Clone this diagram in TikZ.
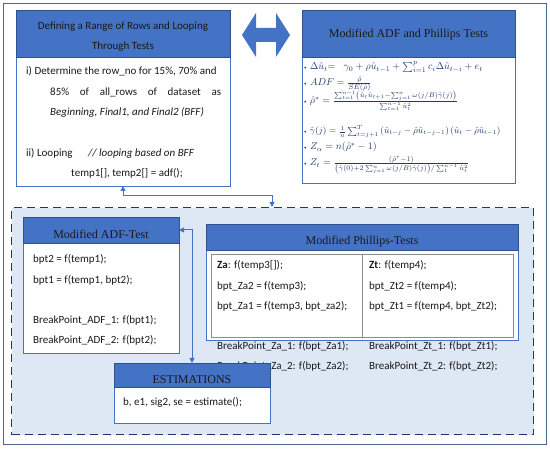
\documentclass[tikz,border=0pt]{standalone}
\usepackage{fontspec}
\usepackage{amsmath}
\newfontfamily\calib{Carlito}
\newfontfamily\serhead{Liberation Serif}
\usetikzlibrary{arrows.meta,calc}
\definecolor{hblue}{HTML}{4472C4}
\definecolor{hnavy}{HTML}{2F528F}
\definecolor{framec}{HTML}{4F6591}
\definecolor{dashc}{HTML}{1F3864}
\definecolor{lightbg}{HTML}{DEE8F4}
\definecolor{mathc}{HTML}{203A74}
\definecolor{textc}{HTML}{1A1A1A}
\definecolor{grayb}{HTML}{8C8C8C}
\tikzset{
  hdr/.style={draw=hnavy, fill=hblue, line width=0.8pt, inner sep=0pt, outer sep=0pt, anchor=north west},
  bodyb/.style={draw=hblue, fill=white, line width=0.9pt, inner sep=0pt, outer sep=0pt, anchor=north west},
  txt/.style={anchor=base west, inner sep=0pt, font=\calib\fontsize{11}{13}\selectfont, text=textc},
  htxt/.style={anchor=base, inner sep=0pt, font=\serhead\fontsize{12}{14}\selectfont, text=textc},
  mtxt/.style={anchor=base west, inner sep=0pt, font=\fontsize{9.6}{11}\selectfont, text=mathc},
  conn/.style={draw=hblue, line width=1pt, {Triangle[length=5pt,width=5pt]}-{Triangle[length=5pt,width=5pt]}}
}
\begin{document}
\begin{tikzpicture}[x=1pt,y=-1pt]
\useasboundingbox (0,0) rectangle (550,449);
% outer frame
\node[draw=framec, line width=1pt, inner sep=0pt, anchor=north west, minimum width=543, minimum height=441] (frame) at (3,3) {};
% dashed region
\node[draw=dashc, fill=lightbg, line width=1.4pt, dash pattern=on 8pt off 5pt, inner sep=0pt, anchor=north west, minimum width=522, minimum height=227] (dbox) at (11,207) {};

% top-left box
\node[bodyb, minimum width=214, minimum height=130] (b1) at (16,56) {};
\node[hdr, minimum width=214, minimum height=47] (h1) at (16,10) {};
\node[txt, anchor=base] (h1a) at (123,30) {Defining a Range of Rows and Looping};
\node[txt, anchor=base] (h1b) at (123,50) {Through Tests};
\node[txt] (t1) at (26,75) {i) Determine the row\_no for 15\%, 70\% and};
\node[txt] (t2) at (50,96) {\makebox[171pt][s]{85\% of all\_rows of dataset as}};
\node[txt] (t3) at (50,116) {\itshape Beginning, Final1, and Final2 (BFF)};
\node[txt] (t4) at (26,157) {ii) Looping};
\node[txt] (t5) at (88,157) {\itshape // looping based on BFF};
\node[txt] (t6) at (71,177) {temp1[], temp2[] = adf();};

% double arrow
\fill[hblue] (242,35) -- (256,13) -- (256,28) -- (276,28) -- (276,13) -- (290,35)
  -- (276,57) -- (276,42) -- (256,42) -- (256,57) -- cycle;

% top-right box
\node[bodyb, minimum width=213, minimum height=126] (b2) at (302,57) {};
\node[hdr, minimum width=213, minimum height=47] (h2) at (302,10) {};
\node[htxt] (h2a) at (408.5,38) {Modified ADF and Phillips Tests};
\node[mtxt, font=\fontsize{10}{12}\selectfont] (m1) at (304,70) {{\calib\tiny\textbullet}\ \(\Delta\hat{u}_t{=}\;\;\; \gamma_0+\rho\hat{u}_{t-1}+\sum_{i=1}^{p}c_i\Delta\hat{u}_{t-i}+e_t\)};
\node[mtxt, font=\fontsize{10}{12}\selectfont] (m2) at (304,86) {{\calib\tiny\textbullet}\ \(ADF=\frac{\hat{\rho}}{SE(\hat{\rho})}\)};
\node[mtxt] (m3) at (304,104) {{\calib\tiny\textbullet}\ \(\hat{\rho}^{*}=\frac{\sum_{t=1}^{n-1}\left(\hat{u}_t\hat{u}_{t+1}-\sum_{j=1}^{n}\omega(j/B)\hat{\gamma}(j)\right)}{\sum_{t=1}^{n-1}\hat{u}_t^{2}}\)};
\node[mtxt, font=\fontsize{9}{11}\selectfont] (m4) at (304,134) {{\calib\tiny\textbullet}\ \(\hat{\gamma}(j)=\frac{1}{n}\sum_{t=j+1}^{T}\left(\hat{u}_{t-j}-\hat{\rho}\hat{u}_{t-j-1}\right)\left(\hat{u}_t-\hat{\rho}\hat{u}_{t-1}\right)\)};
\node[mtxt, font=\fontsize{10}{12}\selectfont] (m5) at (304,150) {{\calib\tiny\textbullet}\ \(Z_{\alpha}=n(\hat{\rho}^{*}-1)\)};
\node[mtxt] (m6) at (304,166) {{\calib\tiny\textbullet}\ \(Z_t=\frac{(\hat{\rho}^{*}-1)}{\left(\hat{\gamma}(0)+2\sum_{j=1}^{n}\omega(j/B)\hat{\gamma}(j)\right)/\sum_{1}^{n-1}\hat{u}_t^{2}}\)};

% connector top-left box <-> dashed region
\coordinate (c1) at (272,196);
\draw[conn] (b1.south) |- (c1) -- (c1 |- dbox.north);

% Modified ADF-Test
\node[bodyb, minimum width=156, minimum height=110] (adfb) at (23,243) {};
\node[hdr, minimum width=156, minimum height=26] (adfh) at (23,217) {};
\node[htxt] (adfa) at (101,239) {Modified ADF-Test};
\node[txt] (a1) at (33,263) {bpt2 = f(temp1);};
\node[txt] (a2) at (33,284) {bpt1 = f(temp1, bpt2);};
\node[txt] (a3) at (33,324) {BreakPoint\_ADF\_1: f(bpt1);};
\node[txt] (a4) at (33,344) {BreakPoint\_ADF\_2: f(bpt2);};

% Modified Phillips-Tests
\node[bodyb, minimum width=312, minimum height=90] (phb) at (206,250) {};
\node[hdr, minimum width=312, minimum height=26] (phh) at (206,224) {};
\node[htxt] (pha) at (362,245) {Modified Phillips-Tests};
\node[draw=grayb, line width=1pt, fill=white, inner sep=0pt, anchor=north west, minimum width=302, minimum height=83] (pin) at (211,254) {};
\draw[grayb, line width=1pt] (pin.north) -- (pin.south);
\node[txt] (p1) at (217,269) {{\bfseries Za}: f(temp3[]);};
\node[txt] (p2) at (217,290) {bpt\_Za2 = f(temp3);};
\node[txt] (p3) at (217,310) {bpt\_Za1 = f(temp3, bpt\_za2);};
\node[txt] (q1) at (369,269) {{\bfseries Zt}: f(temp4);};
\node[txt] (q2) at (369,290) {bpt\_Zt2 = f(temp4);};
\node[txt] (q3) at (369,310) {bpt\_Zt1 = f(temp4, bpt\_Zt2);};
\node[txt] (p4) at (217,350) {BreakPoint\_Za\_1: f(bpt\_Za1);};
\node[txt] (p5) at (217,370) {BreakPoint\_Za\_2: f(bpt\_Za2);};
\node[txt] (q4) at (369,350) {BreakPoint\_Zt\_1: f(bpt\_Zt1);};
\node[txt] (q5) at (369,370) {BreakPoint\_Zt\_2: f(bpt\_Zt2);};

% ESTIMATIONS
\node[bodyb, minimum width=156, minimum height=36] (estb) at (114,387) {};
\node[hdr, minimum width=156, minimum height=24] (est) at (114,363) {};
\node[htxt] (esta) at (192,384) {ESTIMATIONS};
\node[txt] (e1) at (123,406) {b, e1, sig2, se = estimate();};

% connector ADF <-> ESTIMATIONS
\draw[conn] (adfh.east) -| (est.north);
\end{tikzpicture}
\end{document}
